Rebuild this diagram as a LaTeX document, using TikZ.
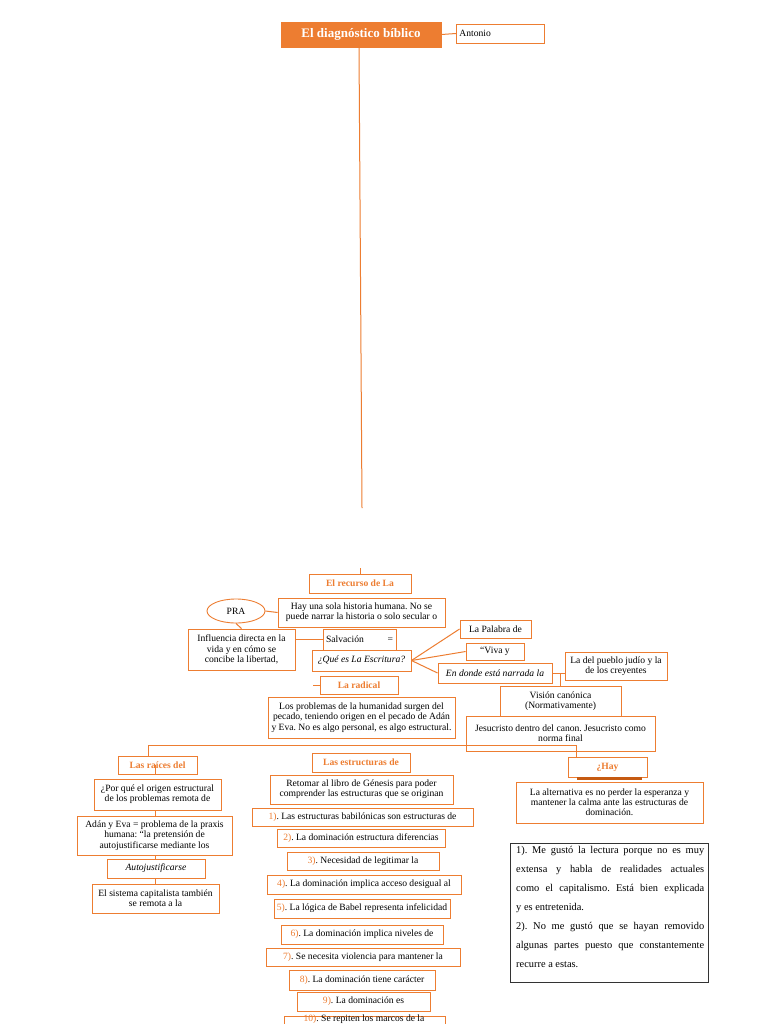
\documentclass[tikz,border=0pt]{standalone}
\usepackage{fontspec}
\setmainfont{Liberation Serif}
\usetikzlibrary{shapes.geometric}
\frenchspacing
\definecolor{org}{HTML}{ED7D31}
\definecolor{dorg}{HTML}{C55A11}
\tikzset{
 box/.style={draw=org, line width=0.9pt, fill=white, inner sep=1pt, align=center, font=\fontsize{9.6}{10.2}\selectfont},
 hd/.style={font=\fontsize{9.6}{10}\bfseries\selectfont, text=org},
 ln/.style={draw=org, line width=1pt},
 it/.style={font=\fontsize{9.6}{10.2}\itshape\selectfont},
}
\newcommand\bx[7][]{\node[box,#1,minimum width={(#5-#3)*1pt},minimum height={(#6-#4)*1pt}] (#2) at ({(#3+#5)/2},{(#4+#6)/2}) {#7};}
\newcommand\nm[1]{\textcolor{org}{#1}}
\begin{document}
\begin{tikzpicture}[x=1pt,y=-1pt]
\useasboundingbox (0,0) rectangle (768,1024);
\fill[white] (0,0) rectangle (768,1024);
% title
\bx[fill=org,text=white,font=\fontsize{13}{14}\bfseries\selectfont]{title}{281}{22}{441}{47}{El diagnóstico bíblico}
\node[box,anchor=west,minimum width=88,minimum height=19,text width=82,align=left] (ant) at (456,33.5) {Antonio};
\draw[ln] (title.east) -- (ant.west);
\coordinate (vend) at (362,508);
\draw[ln] (359,47) -- (vend);
% recurso
\bx[hd]{rec}{309}{574}{411}{593}{El recurso de La}
\coordinate (rectop) at (360,568);
\draw[ln] (rectop) -- (rec.north);
\node[ellipse,draw=org,line width=0.9pt,minimum width=58,minimum height=24,font=\fontsize{9.6}{10}\selectfont] (pra) at (236,611) {PRA};
\bx{hay}{278}{598}{445}{627}{Hay una sola historia humana. No se\\puede narrar la historia o solo secular o}
\draw[ln] (pra.east) -- (hay.west);
\bx{inf}{188}{629}{295}{670}{Influencia directa en la\\vida y en cómo se\\concibe la libertad,}
\draw[ln] (pra.south) -- (inf.north);
\node[box,minimum width=73,minimum height=21,text width=67,align=left] (sal) at (359.5,639.5) {Salvación\hfill=\hspace{1.2em}};
\draw[ln] (inf.east |- sal.west) -- (sal.west);
\bx[it]{que}{312}{650}{411}{671}{¿Qué es La Escritura?}
\bx{pal}{460}{620}{531}{638}{La Palabra de}
\bx{viva}{466}{643}{524}{660}{“Viva y}
\bx[it]{don}{438}{663}{552}{683}{En donde está narrada la}
\draw[ln] (que.east) -- (pal.west);
\draw[ln] (que.east) -- (viva.west);
\draw[ln] (que.east) -- (don.west);
\bx{jud}{565}{652}{667}{680}{La del pueblo judío y la\\de los creyentes}
\draw[ln] (don.east) -- (jud.west |- don.east);
\bx{vis}{500}{686}{621}{716}{Visión canónica\\(Normativamente)}
\draw[ln] (560,673) -- (560,686);
\bx{jes}{466}{716}{655}{751}{Jesucristo dentro del canon. Jesucristo como\\norma final}
% radical
\bx[hd]{rad}{320}{676}{398}{694}{La radical}
\coordinate (radl) at (313,685);
\draw[ln] (radl) -- (rad.west);
\bx{prob}{268}{697}{455}{738}{Los problemas de la humanidad surgen del\\pecado, teniendo origen en el pecado de Adán\\y Eva. No es algo personal, es algo estructural.}
% branch line
\coordinate (bl) at (148,745);
\coordinate (br) at (576,745);
% raices
\bx[hd]{rai}{118}{756}{197}{774}{Las raíces del}
\bx[hd]{hy}{568}{757}{647}{777}{¿Hay}
\draw[ln] (rai.north -| bl) -- (bl) -- (br) -- (hy.north -| br);
\bx{por}{94}{779}{221}{810}{¿Por qué el origen estructural\\de los problemas remota de}
\bx{ada}{77}{816}{232}{855}{Adán y Eva = problema de la praxis\\humana: “la pretensión de\\autojustificarse mediante los}
\bx[it]{aut}{107}{859}{205}{878}{Autojustificarse}
\bx{sis}{92}{884}{219}{913}{El sistema capitalista también\\se remota a la}
\draw[ln] (155,765) -- (rai.south -| 155,0);
\draw[ln] (por.south -| 155,0) -- (ada.north -| 155,0);
\draw[ln] (ada.south -| 155,0) -- (aut.north -| 155,0);
\draw[ln] (aut.south -| 155,0) -- (sis.north -| 155,0);
% estructuras
\bx[hd]{est}{312}{753}{410}{772}{Las estructuras de}
\bx{ret}{270}{775}{453}{804}{Retomar al libro de Génesis para poder\\comprender las estructuras que se originan}
\bx{l1}{252}{808}{473}{826}{\nm{1)}. Las estructuras babilónicas son estructuras de}
\bx{l2}{277}{829}{445}{847}{\nm{2)}. La dominación estructura diferencias}
\bx{l3}{287}{852}{439}{870}{\nm{3)}. Necesidad de legitimar la}
\bx{l4}{267}{875}{461}{894}{\nm{4)}. La dominación implica acceso desigual al}
\bx{l5}{274}{899}{450}{918}{\nm{5)}. La lógica de Babel representa infelicidad}
\bx{l6}{281}{925}{443}{944}{\nm{6)}. La dominación implica niveles de}
\bx{l7}{266}{948}{460}{966}{\nm{7)}. Se necesita violencia para mantener la}
\bx{l8}{289}{970}{435}{990}{\nm{8)}. La dominación tiene carácter}
\bx{l9}{297}{992}{430}{1011}{\nm{9)}. La dominación es}
\bx{l10}{284}{1016}{445}{1034}{}
\node[font=\fontsize{9.6}{10}\selectfont,inner sep=0pt,anchor=north] (l10t) at (364,1015) {\nm{10)}. Se repiten los marcos de la};
% hay
\fill[dorg] (577,777) rectangle (642,780);
\bx{alt}{516}{782}{703}{823}{La alternativa es no perder la esperanza y\\mantener la calma ante las estructuras de\\dominación.}
% comment
\draw[black!80,line width=0.9pt] (510,843) rectangle (708,982);
\node[text width=188,align=justify,inner sep=0pt,anchor=north west,font=\fontsize{10.4}{19}\selectfont] (com) at (516,846) {1). Me gustó la lectura porque no es muy\linebreak extensa y habla de realidades actuales\linebreak como el capitalismo. Está bien explicada\linebreak y es entretenida.\\2). No me gustó que se hayan removido\linebreak algunas partes puesto que constantemente\linebreak recurre a estas.};
\end{tikzpicture}
\end{document}
